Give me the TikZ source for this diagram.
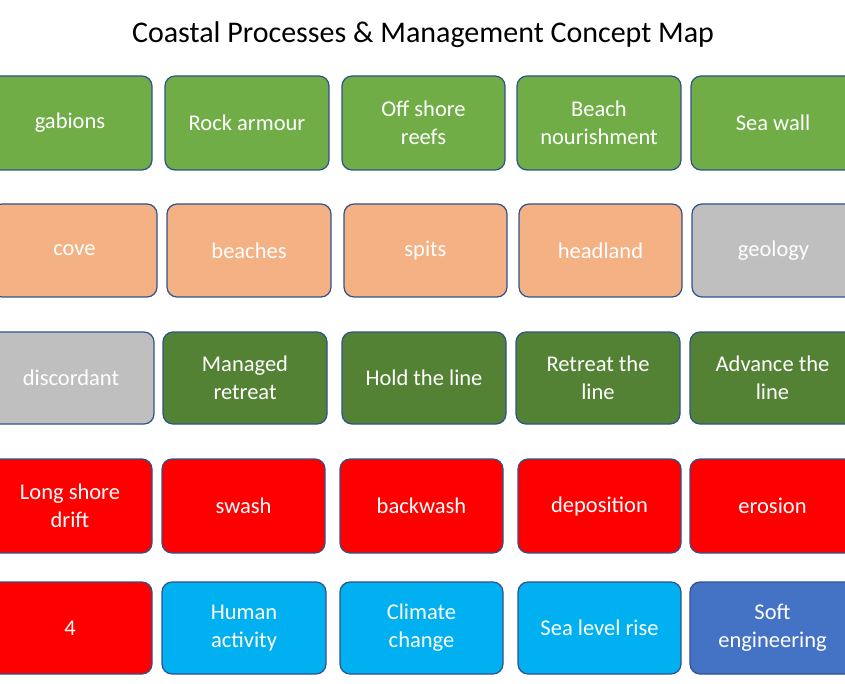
\documentclass[tikz,border=0pt]{standalone}
\usepackage{fontspec}
\setmainfont{Carlito}
\definecolor{lg}{HTML}{70AD47}
\definecolor{dg}{HTML}{548235}
\definecolor{og}{HTML}{F4B183}
\definecolor{gy}{HTML}{BFBFBF}
\definecolor{rd}{HTML}{FF0000}
\definecolor{lb}{HTML}{00B0F0}
\definecolor{bl}{HTML}{4472C4}
\definecolor{bd}{HTML}{2F528F}
\begin{document}
\begin{tikzpicture}[x=1pt,y=-1pt,
  box/.style={draw=bd,line width=1.2pt,rounded corners=10pt,text=white,align=center,
    font=\fontsize{22.5}{28}\selectfont,inner sep=0pt}]
\useasboundingbox (0,0) rectangle (845,684);
\clip (0,0) rectangle (845,684);
\node[font=\fontsize{30}{34}\selectfont] (title) at (423,35) {Coastal Processes \& Management Concept Map};
\newcommand\bx[7]{\node[box,fill=#6,minimum width=#4-#2,minimum height=#5-#3] (#1) at ({(#2+#4)/2},{(#3+#5)/2}) {#7};}
\bx{a1}{-12}{76}{152}{170}{lg}{gabions}
\bx{a2}{165}{76}{329}{170}{lg}{Rock armour}
\bx{a3}{342}{76}{505}{170}{lg}{Off shore\\reefs}
\bx{a4}{517}{76}{681}{170}{lg}{Beach\\nourishment}
\bx{a5}{691}{76}{855}{170}{lg}{Sea wall}
\bx{b1}{-8}{204}{157}{297}{og}{cove}
\bx{b2}{167}{204}{331}{297}{og}{beaches}
\bx{b3}{344}{204}{507}{297}{og}{spits}
\bx{b4}{519}{204}{682}{297}{og}{headland}
\bx{b5}{692}{204}{855}{297}{gy}{geology}
\bx{c1}{-12}{332}{154}{424}{gy}{discordant}
\bx{c2}{163}{332}{327}{424}{dg}{Managed\\retreat}
\bx{c3}{342}{332}{506}{424}{dg}{Hold the line}
\bx{c4}{516}{332}{680}{424}{dg}{Retreat the\\line}
\bx{c5}{690}{332}{855}{424}{dg}{Advance the\\line}
\bx{d1}{-12}{459}{152}{553}{rd}{Long shore\\drift}
\bx{d2}{162}{459}{325}{553}{rd}{swash}
\bx{d3}{340}{459}{503}{553}{rd}{backwash}
\bx{d4}{518}{459}{681}{553}{rd}{deposition}
\bx{d5}{690}{459}{855}{553}{rd}{erosion}
\bx{e1}{-12}{582}{152}{674}{rd}{4}
\bx{e2}{162}{582}{326}{674}{lb}{Human\\activity}
\bx{e3}{340}{582}{503}{674}{lb}{Climate\\change}
\bx{e4}{518}{582}{681}{674}{lb}{Sea level rise}
\bx{e5}{690}{582}{855}{674}{bl}{Soft\\engineering}
\end{tikzpicture}
\end{document}
